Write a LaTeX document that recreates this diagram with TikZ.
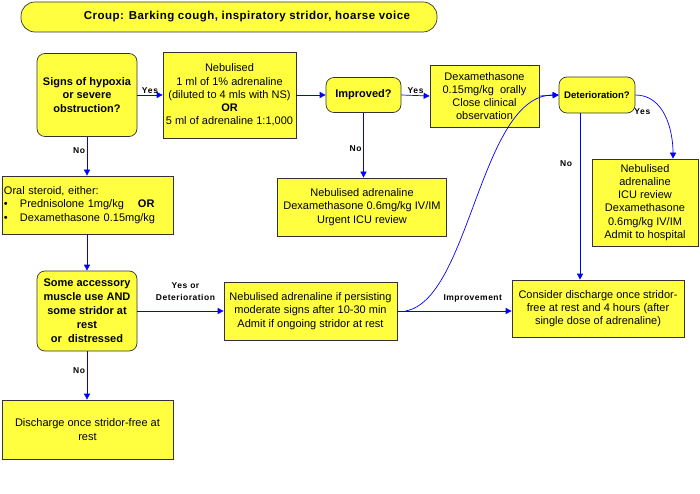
\documentclass[tikz,border=0pt]{standalone}
\usepackage{fontspec}
\setmainfont{Liberation Sans}
\usetikzlibrary{arrows.meta,calc}
\definecolor{boxy}{RGB}{255,255,64}
\definecolor{arr}{RGB}{0,0,255}
\begin{document}
\begin{tikzpicture}[x=1pt,y=-1pt,
 box/.style={draw=black!80, fill=boxy, line width=0.7pt, align=center, inner sep=1pt, font=\fontsize{11}{13.2}\selectfont},
 dec/.style={box, rounded corners=8pt, font=\fontsize{11}{13.5}\selectfont\bfseries},
 arw/.style={draw=arr, line width=0.7pt, -{Triangle[length=6pt,width=6pt]}},
 lbl/.style={font=\fontsize{8.5}{9}\selectfont\bfseries\addfontfeature{LetterSpace=8}, inner sep=1.5pt}
]
\useasboundingbox (0,0) rectangle (700,494);
\fill[white] (0,0) rectangle (700,494);

\node[box, rounded corners=14pt, minimum width=416pt, minimum height=30pt, font=\fontsize{11.5}{12}\selectfont\bfseries\addfontfeature{LetterSpace=4}] (title) at (229,17) {\hspace*{36pt}Croup: Barking cough, inspiratory stridor, hoarse voice};

\node[dec, minimum width=100pt, minimum height=83pt] (q1) at (87,95) {Signs of hypoxia\\or severe\\obstruction?};
\node[box, minimum width=133pt, minimum height=86pt] (neb1) at (229.5,95) {Nebulised\\1 ml of 1\% adrenaline\\(diluted to 4 mls with NS)\\\textbf{OR}\\5 ml of adrenaline 1:1,000};
\node[dec, minimum width=75pt, minimum height=35pt] (imp) at (363.5,95) {Improved?};
\node[box, minimum width=109pt, minimum height=62pt] (dex) at (484.5,96) {Dexamethasone\\0.15mg/kg\ \ orally\\Close clinical\\observation};
\node[dec, minimum width=76pt, minimum height=36pt, inner sep=0pt, font=\fontsize{9.6}{11}\selectfont\bfseries] (det) at (597,95) {Deterioration?};

\node[box, minimum width=169pt, minimum height=58pt] (urg) at (362,207) {Nebulised adrenaline\\Dexamethasone 0.6mg/kg IV/IM\\Urgent ICU review};
\node[box, minimum width=171pt, minimum height=58pt, align=left, text width=167pt] (oral) at (87.5,205) {Oral steroid, either:\\\makebox[16pt][l]{•}Prednisolone 1mg/kg\hspace{14pt}\textbf{OR}\\\makebox[16pt][l]{•}Dexamethasone 0.15mg/kg};
\node[box, minimum width=106pt, minimum height=87pt] (icu) at (645,202.5) {Nebulised\\adrenaline\\ICU review\\Dexamethasone\\0.6mg/kg IV/IM\\Admit to hospital};

\node[dec, minimum width=100pt, minimum height=80pt, font=\fontsize{11}{14}\selectfont\bfseries] (q2) at (87,311) {Some accessory\\muscle use AND\\some stridor at\\rest\\or\ \ distressed};
\node[box, minimum width=173pt, minimum height=58pt] (neb2) at (310.5,311) {Nebulised adrenaline if persisting\\moderate signs after 10-30 min\\Admit if ongoing stridor at rest};
\node[box, minimum width=172pt, minimum height=57pt] (cons) at (598,308.5) {Consider discharge once stridor-\\free at rest and 4 hours (after\\single dose of adrenaline)};
\node[box, minimum width=171pt, minimum height=59pt] (dis) at (87.5,429.5) {Discharge once stridor-free at\\rest};

\draw[arw] (q1.east) -- (neb1.west) node[lbl, midway, above] {Yes};
\draw[arw] (neb1.east) -- (imp.west);
\draw[arw] (imp.east) -- (dex.west) node[lbl, midway, above] {Yes};
\draw[arw] (dex.east) -- (det.west);
\draw[arw] (imp.south) -- (imp.south |- urg.north) node[lbl, pos=0.55, left] {No};
\draw[arw] (q1.south) -- (q1.south |- oral.north) node[lbl, pos=0.35, left] {No};
\draw[arw] (oral.south -| q1.south) -- (q1.south |- q2.north);
\draw[arw] (q2.east) -- (neb2.west) node[lbl, midway, above=9pt, xshift=5pt, align=center, font=\fontsize{8.5}{12}\selectfont\bfseries\addfontfeature{LetterSpace=6}] {Yes or\\Deterioration};
\draw[arw] (q2.south) -- (q2.south |- dis.north) node[lbl, pos=0.4, left] {No};
\draw[arw] (neb2.east) -- (neb2.east -| cons.west) node[lbl, pos=0.66, above=7pt, font=\fontsize{8.5}{9}\selectfont\bfseries\addfontfeature{LetterSpace=6}] {Improvement};
\coordinate (dn) at ([xshift=-17pt]det.south);
\draw[arw] (dn) -- (dn |- cons.north) node[lbl, pos=0.3, left=6pt] {No};
\draw[arw] (det.east) to[out=0, in=90] node[lbl, pos=0.3, below left=4pt] {Yes} ([xshift=28pt]icu.north);
\draw[arw] ([xshift=8pt]neb2.east) .. controls (470,300) and (480,95) .. (det.west);
\end{tikzpicture}
\end{document}
